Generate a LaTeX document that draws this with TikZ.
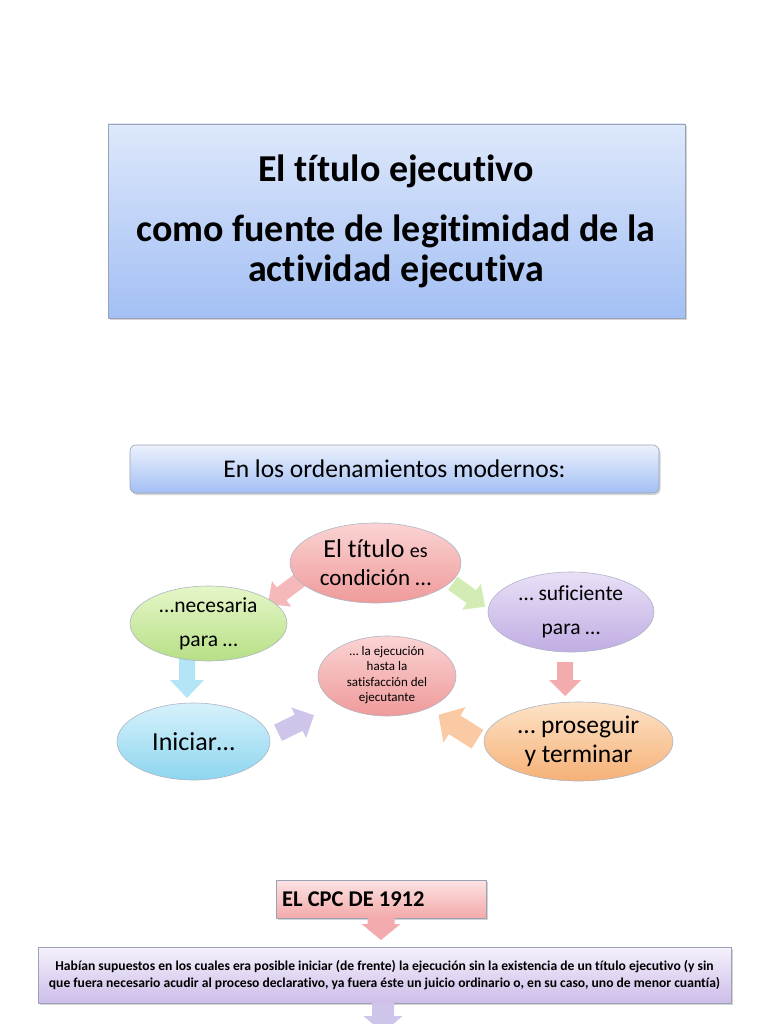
\documentclass[tikz,border=0pt]{standalone}
\usepackage{fontspec}
\setmainfont{Carlito}[Ligatures={NoCommon}]
\usetikzlibrary{shapes.geometric,shadows}
\definecolor{tbTop}{HTML}{DDE8FB}
\definecolor{tbBot}{HTML}{A3BFF4}
\definecolor{pkTop}{HTML}{FBD3D3}
\definecolor{pkBot}{HTML}{EF9A9A}
\definecolor{grTop}{HTML}{E5F6C8}
\definecolor{grBot}{HTML}{B7DF86}
\definecolor{lvTop}{HTML}{E9E0F7}
\definecolor{lvBot}{HTML}{C0ADE3}
\definecolor{blTop}{HTML}{D6F2FB}
\definecolor{blBot}{HTML}{8DD5EF}
\definecolor{orTop}{HTML}{FDE2C6}
\definecolor{orBot}{HTML}{F6B177}
\definecolor{boxTop}{HTML}{F5F1FC}
\definecolor{boxBot}{HTML}{CDBDE9}
\definecolor{cpcTop}{HTML}{FDE3E3}
\definecolor{cpcBot}{HTML}{F3A9A9}
\definecolor{arPink}{HTML}{F5B9BB}
\definecolor{arGreen}{HTML}{D3ECB6}
\definecolor{arBlue}{HTML}{B3E5F7}
\definecolor{arPink2}{HTML}{F4ABAE}
\definecolor{arPurple}{HTML}{CFC4EA}
\definecolor{arOrange}{HTML}{F9CAA3}
\definecolor{edge}{HTML}{9AA3B5}
\newcommand{\blkarrow}[8]{%
  \begin{scope}[shift={(#1,-#2)},rotate=#3]
    \fill[#8] (-#4/2,-#5/2) -- (#4/2-#7,-#5/2) -- (#4/2-#7,-#6/2) -- (#4/2,0)
      -- (#4/2-#7,#6/2) -- (#4/2-#7,#5/2) -- (-#4/2,#5/2) -- cycle;
  \end{scope}}
\tikzset{
  ell/.style={ellipse,draw=edge!80,line width=0.6pt,inner sep=0pt},
  sq/.style={rectangle,draw=edge,line width=0.6pt,inner sep=0pt,
    drop shadow={shadow xshift=1.5pt,shadow yshift=-2pt,opacity=0.35}},
  txt/.style={inner sep=0pt,align=center,text=black},
}
\begin{document}
\begin{tikzpicture}[x=1pt,y=1pt]
\useasboundingbox (0,0) rectangle (768,-1024);
\clip (0,0) rectangle (768,-1024);
% title box
\node[sq,top color=tbTop,bottom color=tbBot,minimum width=577pt,minimum height=194pt] (title) at (396.5,-221) {};
\node[txt,anchor=base,font=\fontsize{38}{44}\selectfont\bfseries] (t1) at (396,-182) {El título ejecutivo};
\node[txt,anchor=base,font=\fontsize{38}{44}\selectfont\bfseries] (t2) at (396,-241) {como fuente de legitimidad de la};
\node[txt,anchor=base,font=\fontsize{38}{44}\selectfont\bfseries] (t3) at (396,-281) {actividad ejecutiva};
% ordenamientos box
\node[rectangle,rounded corners=6pt,draw=edge,line width=0.6pt,top color=tbTop!60!white,bottom color=tbBot,
  minimum width=529pt,minimum height=48pt,inner sep=0pt,
  drop shadow={shadow xshift=1.5pt,shadow yshift=-2pt,opacity=0.35}] (ord) at (394.5,-469) {};
\node[txt,anchor=base,font=\fontsize{25.5}{30}\selectfont] (ordt) at (394.5,-477) {En los ordenamientos modernos:};
% arrows of the cycle
\blkarrow{284}{592}{217}{40}{16}{32}{17}{arPink}
\blkarrow{469}{595}{-36}{40}{16}{32}{17}{arGreen}
\blkarrow{187}{676}{-90}{44}{16}{34}{18}{arBlue}
\blkarrow{565}{679}{-90}{34}{16}{32}{16}{arPink2}
\blkarrow{296}{724}{26}{40}{18}{34}{17}{arPurple}
\blkarrow{458}{727}{148}{46}{22}{42}{19}{arOrange}
% ellipses
\node[ell,top color=pkTop,bottom color=pkBot,minimum width=171pt,minimum height=80pt] (cond) at (375.5,-563) {};
\node[txt,font=\fontsize{23}{28}\selectfont] (condt) at (375.5,-563) {{\fontsize{26}{28}\selectfont El título} {\fontsize{20}{28}\selectfont es}\\condición …};
\node[ell,top color=grTop,bottom color=grBot,minimum width=157pt,minimum height=75pt] (nec) at (208.5,-623.5) {};
\node[txt,font=\fontsize{21.5}{34}\selectfont] (nect) at (208.5,-623.5) {…necesaria\\para …};
\node[ell,top color=lvTop,bottom color=lvBot,minimum width=166pt,minimum height=80pt] (suf) at (571,-612) {};
\node[txt,font=\fontsize{21.5}{34}\selectfont] (suft) at (571,-612) {… suficiente\\para …};
\node[ell,top color=pkTop,bottom color=pkBot,minimum width=138pt,minimum height=80pt] (ejec) at (387,-676) {};
\node[txt,font=\fontsize{13}{15.5}\selectfont] (eject) at (387,-675) {… la ejecución\\hasta la\\satisfacción del\\ejecutante};
\node[ell,top color=blTop,bottom color=blBot,minimum width=153pt,minimum height=77pt] (ini) at (193.5,-741.5) {};
\node[txt,font=\fontsize{26}{30}\selectfont] (init) at (193.5,-741.5) {Iniciar…};
\node[ell,top color=orTop,bottom color=orBot,minimum width=189pt,minimum height=79pt] (pros) at (578.5,-741.5) {};
\node[txt,font=\fontsize{25.5}{29.5}\selectfont] (prost) at (578.5,-741.5) {… proseguir\\y terminar};
% CPC part
\node[sq,top color=cpcTop,bottom color=cpcBot,minimum width=210pt,minimum height=38pt] (cpc) at (381,-899) {};
\node[txt,anchor=base west,font=\fontsize{22.5}{26}\selectfont\bfseries] (cpct) at (282,-906) {EL CPC DE 1912};
\blkarrow{381}{929}{-90}{22}{27}{39}{16}{arPink2}
\node[sq,top color=boxTop,bottom color=boxBot,minimum width=693pt,minimum height=56pt] (hab) at (384.5,-975) {};
\node[txt,font=\fontsize{13.6}{16.5}\selectfont\bfseries] (habt) at (384.5,-975) {Habían supuestos en los cuales era posible iniciar (de frente) la ejecución sin la existencia de un título ejecutivo (y sin\\que fuera necesario acudir al proceso declarativo, ya fuera éste un juicio ordinario o, en su caso, uno de menor cuantía)};
\blkarrow{383}{1018}{-90}{30}{22}{39}{17}{arPurple}
\end{tikzpicture}
\end{document}
